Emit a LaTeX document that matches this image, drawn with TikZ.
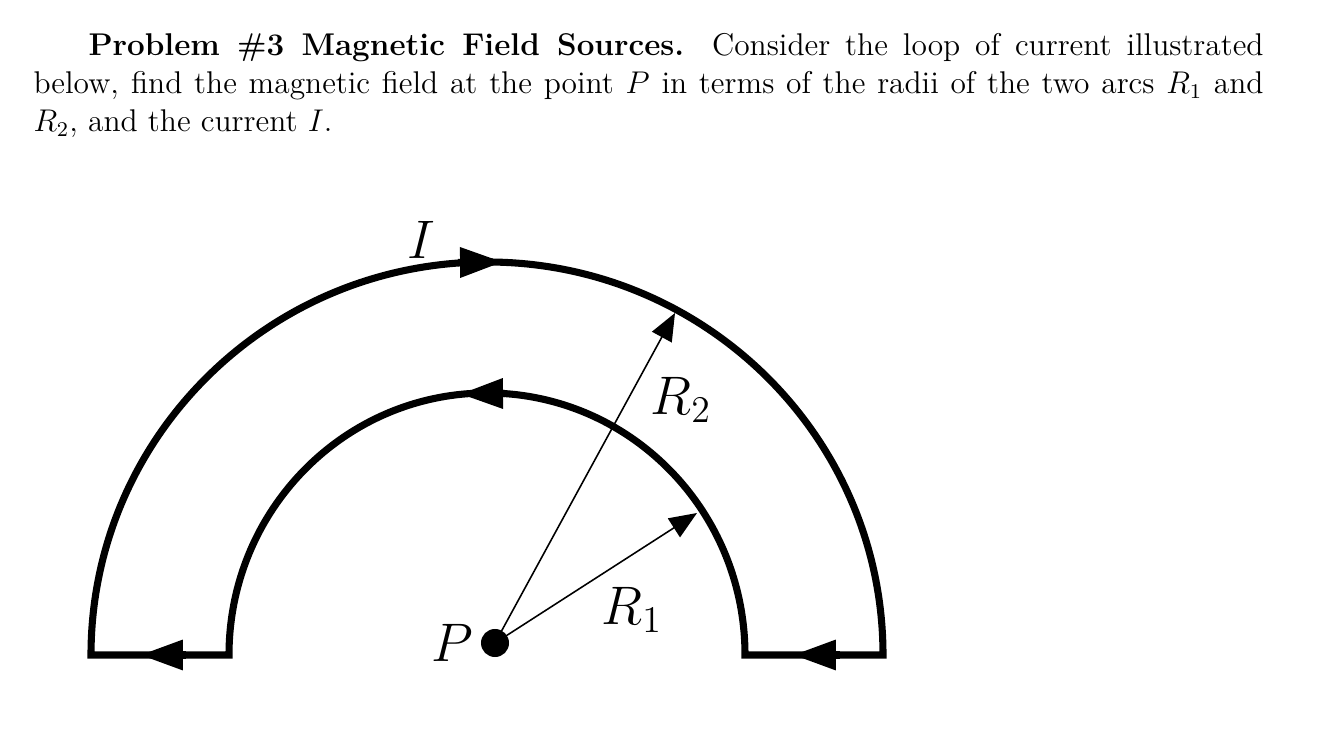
\documentclass[tikz,border=0pt]{standalone}
\usepackage{amsmath}
\usetikzlibrary{arrows.meta}

\begin{document}
\begin{tikzpicture}[x=0.3819pt, y=0.3819pt,
    wire/.style={line width=2.7pt, line join=miter},
    flow/.style={line width=2.7pt, -{Triangle[length=16.4pt, width=11pt]}},
    rvec/.style={line width=0.6pt, -{Triangle[length=10.5pt, width=8.5pt]}},
    lbl/.style={font=\fontsize{20.74}{25}\selectfont, inner sep=0pt},
    pdot/.style={circle, fill, inner sep=0pt, minimum size=10.7pt}]
    \useasboundingbox (0,0) rectangle (1320,748);

    % problem text
    \node[anchor=north west, inner sep=0pt, text width=469.75pt, align=justify,
          font=\fontsize{12}{14.5}\selectfont] (task) at (33,715) {%
        \hspace*{21pt}\textbf{Problem \#3 Magnetic Field Sources.} Consider the loop of current illustrated\linebreak
        below, find the magnetic field at the point $P$ in terms of the radii of the two arcs $R_1$ and\linebreak
        $R_2$, and the current $I$.};

    % current loop
    \coordinate (C) at (487,93);
    \draw[wire] (91,93) coordinate (outL)
        arc[start angle=180, end angle=0, x radius=396, y radius=393] coordinate (outR)
        -- (745,93) coordinate (inR)
        arc[start angle=0, end angle=180, x radius=258, y radius=262] coordinate (inL)
        -- cycle;

    % direction of the current
    \draw[flow] (458,485.5) -- (503,486);
    \draw[flow] (505,354.5) -- (460,354);
    \draw[flow] (840,93) -- (793,93);
    \draw[flow] (186,93) -- (140,93);

    % the point P and the two radii
    \node[pdot] (P) at (495,105) {};
    \coordinate (r1) at (697,235);
    \coordinate (r2) at (675,435);
    \draw[rvec] (P.center) -- (r1);
    \draw[rvec] (P.center) -- (r2);

    % labels
    \node[lbl] (Ilbl) at (421,508) {$I$};
    \node[lbl] (R2lbl) at (681,348) {$R_2$};
    \node[lbl] (R1lbl) at (632,138) {$R_1$};
    \node[lbl] (Plbl) at (452,105) {$P$};
\end{tikzpicture}
\end{document}
